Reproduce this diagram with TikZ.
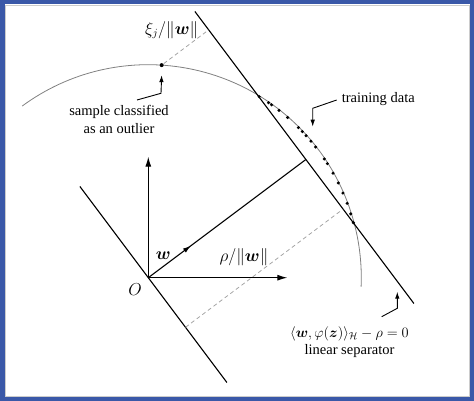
\documentclass[tikz,border=0pt]{standalone}
\usepackage{amsmath,bm}
\usepackage{fontspec}
\setmainfont{Liberation Serif}
\usetikzlibrary{arrows.meta,decorations.markings,calc}
\definecolor{marco}{RGB}{58,88,168}

\begin{document}
\begin{tikzpicture}[x=1pt, y=1pt, line width=1.1pt,
		font=\fontsize{14.5}{17.4}\selectfont,
		>={Latex[length=10pt,width=6pt]},
		punto/.style={circle, fill, inner sep=0pt, minimum size=4pt},
		mate/.style={font=\fontsize{16}{19}\selectfont},
		guia/.style={gray!70, dashed, line width=.8pt, dash pattern=on 4pt off 3pt},
		flecha/.style={->, line width=.9pt, >={Latex[length=7pt,width=4.5pt]}}]
		\useasboundingbox (0,0) rectangle (474,401);
		
		% Marco
		\draw[marco, line width=4.5pt] (2.25,2.25) rectangle (471.75,398.75);
		\draw[gray!40, line width=.6pt] (5,5) rectangle (469,396);
		
		% Origen y ejes
		\coordinate (O) at (148.3,123.3);
		\node[mate] (Olab) at (135,111) {$O$};
		\draw[->] (O) -- ++(0,121) coordinate (ejey);
		\draw[->] (O) -- ++(139,0) coordinate (ejex);
		
		% Circulo de los datos
		\draw[gray, line width=.8pt] (O) ++(126.3:213) arc[start angle=126.3, end angle=-2.4, radius=213];
		
		% Vector w y separador
		\coordinate (F) at ($(O)+(36.87:197)$);
		\draw[postaction={decorate}, decoration={markings,
			mark=at position .27 with {\arrow{Latex[length=8pt,width=5pt]}}}] (O) -- (F);
		\node[mate] (wlab) at (163.3,145) {$\bm{w}$};
		\draw (F) ++(126.87:185) coordinate (sepA) -- (F) -- ++(-53.13:180) coordinate (sepB);
		\draw (O) ++(126.87:114) coordinate (izqA) -- (O) -- ++(-53.13:131) coordinate (izqB);
		
		% Distancia rho
		\coordinate (P) at ($(O)+(-53.13:62)$);
		\draw[guia] (P) -- ++(36.87:197) coordinate (Q);
		\node[mate] (rholab) at (244,144.3) {$\rho/\|\bm{w}\|$};
		
		% Datos de entrenamiento
		\foreach \a in {58.5,55.5,54.5,52,49,45,43.5,42,40,38,34,32.5,29.5,26.5,23.5,20.5,17.5,15}{
			\node[punto, minimum size=3.4pt] at ($(O)+(\a:212.3)$) {};}
		
		% Outlier
		\node[punto] (outl) at ($(O)+(86.4:213)$) {};
		\draw[guia] (outl) -- ++(36.87:58.7) coordinate (outlpie);
		\node[mate] (xilab) at (171.7,371) {$\xi_j/\|\bm{w}\|$};
		
		% Etiquetas
		\node[align=center] (outtxt) at (119,281.5) {sample classified\\as an outlier};
		\coordinate (o1) at (137,301);
		\coordinate (o2) at (161,307.7);
		\draw[flecha] (o1) -- (o2) -- ($(outl)+(0,-10)$);
		
		\node (traintxt) at (378.3,301.7) {training data};
		\coordinate (t1) at (336.7,301);
		\coordinate (t2) at (312.7,292.7);
		\draw[flecha] (t1) -- (t2) -- ++(0,-18.4);
		
		\node[align=center] (septxt) at (349.5,59) {$\langle \bm{w},\varphi(\bm{z})\rangle_{\mathcal{H}}-\rho=0$\\linear separator};
		\coordinate (s1) at (381.7,84.3);
		\coordinate (s2) at (397.3,92.7);
		\draw[flecha] (s1) -- (s2) -- ++(0,16.6);
	\end{tikzpicture}
\end{document}
